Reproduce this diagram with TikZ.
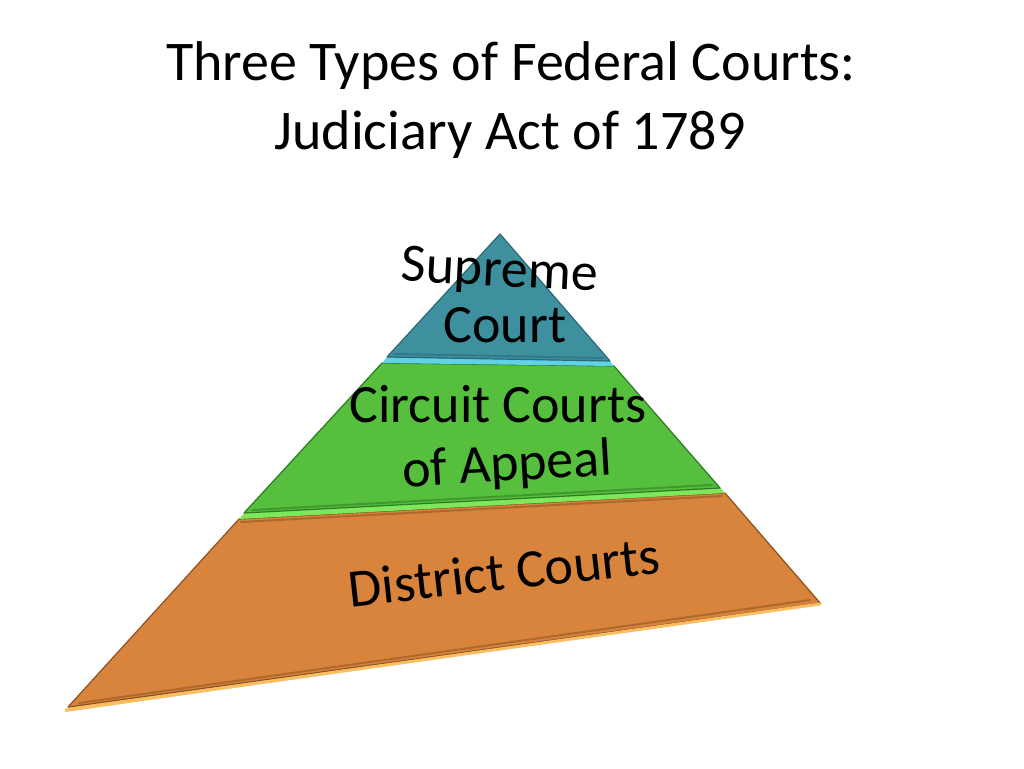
\documentclass[tikz,border=0pt]{standalone}
\usepackage{fontspec}
\setmainfont{Carlito}
\usetikzlibrary{calc}
\definecolor{tealface}{HTML}{3F909F}
\definecolor{tealedge}{HTML}{2A6876}
\definecolor{tealstrip}{HTML}{60D2E8}
\definecolor{greenface}{HTML}{56BF3D}
\definecolor{greenedge}{HTML}{2F7A24}
\definecolor{greenstrip}{HTML}{7EE85C}
\definecolor{orangeface}{HTML}{D9843C}
\definecolor{orangeedge}{HTML}{8C5222}
\definecolor{orangestrip}{HTML}{F8BE62}
\tikzset{
  titletext/.style={font=\fontsize{56}{67}\selectfont, anchor=base, inner sep=0pt},
  leveltext/.style={font=\fontsize{54}{60}\selectfont, anchor=base, inner sep=0pt},
  face/.style={line width=1.2pt, line join=round},
  strip/.style={line join=round, draw=none},
  bevel/.style={line width=2pt, line cap=round, opacity=0.55}
}
\begin{document}
\begin{tikzpicture}[x=1pt,y=-1pt]
\useasboundingbox (0,0) rectangle (1024,768);
\fill[white] (0,0) rectangle (1024,768);
% key points of the pyramid
\coordinate (A) at (500,234);
\coordinate (L1) at (387,357);
\coordinate (R1) at (610,361);
\coordinate (L1s) at (382,363);
\coordinate (R1s) at (614,366);
\coordinate (L2) at (244,513);
\coordinate (R2) at (720,488);
\coordinate (L2s) at (239,519);
\coordinate (R2s) at (725,493);
\coordinate (BL) at (65,709);
\coordinate (BR) at (820,603);
% bottom band
\fill[orangestrip] (L2s) -- (R2s) -- ($(BR)+(2,1)$) -- ($(BL)+(0,3)$) -- cycle;
\filldraw[face, fill=orangeface, draw=orangeedge] (L2s) -- (R2s) -- (BR) -- ($(BL)+(3,-2)$) -- cycle;
\draw[orangestrip, line width=3pt, line cap=round] ($(BL)+(1,1)$) -- ($(BR)+(0,1)$);
\draw[bevel, orangeedge] ($(BL)+(14,-6)$) -- ($(BR)+(-10,-3)$);
\draw[bevel, orangeedge] ($(L2s)+(2,3)$) -- ($(R2s)+(-3,3)$);
% middle band
\fill[strip, greenstrip] (L1s) -- (R1s) -- (R2s) -- (L2s) -- cycle;
\filldraw[face, fill=greenface, draw=greenedge] (L1s) -- (R1s) -- (R2) -- (L2) -- cycle;
\draw[bevel, greenedge] ($(L2)+(8,-3)$) -- ($(R2)+(-8,-3)$);
% top band
\fill[strip, tealstrip] (A) -- (R1s) -- (L1s) -- cycle;
\filldraw[face, fill=tealface, draw=tealedge] (A) -- (R1) -- (L1) -- cycle;
\draw[bevel, tealedge] ($(L1)+(7,-3)$) -- ($(R1)+(-7,-3)$);
% titles
\node[titletext] (t1) at (511,80) {Three Types of Federal Courts:};
\node[titletext] (t2) at (510,149) {Judiciary Act of 1789};
% level labels
\node[leveltext, rotate=-3] (s1) at (499,286) {Supreme};
\node[leveltext] (s2) at (505,342) {Court};
\node[leveltext] (c1) at (498,422) {Circuit Courts};
\node[leveltext, rotate=3.3] (c2) at (508,481) {of Appeal};
\node[leveltext, rotate=6.3] (d1) at (506,590) {District Courts};
\end{tikzpicture}
\end{document}
